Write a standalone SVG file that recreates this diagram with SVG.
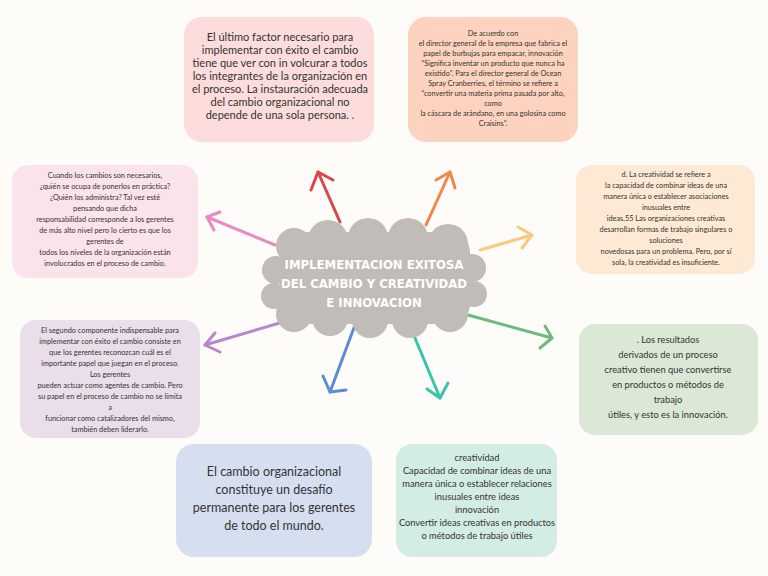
<svg xmlns="http://www.w3.org/2000/svg" width="768" height="576" viewBox="0 0 768 576">
<style>
.t{font-family:Lato,"Open Sans","Liberation Sans",sans-serif;fill:#333;text-anchor:middle}
.s{font-size:7.3px}.m{font-size:9.3px}.l{font-size:11px}.xl{font-size:12.5px}
.c{fill:none;stroke-width:3;stroke-linecap:round;stroke-linejoin:round}
</style>
<rect width="768" height="576" fill="#fdfcf8"/>
<g id="connectors">
<g class="c" stroke="#d9474a"><path d="M340 222L318 172"/><path d="M311 190L318 172L333 180"/></g>
<g class="c" stroke="#f5844c"><path d="M426 225L450 172"/><path d="M436 180L450 172L455 188"/></g>
<g class="c" stroke="#fbc97d"><path d="M480 250L532 235"/><path d="M518 227L532 235L522 248"/></g>
<g class="c" stroke="#6cbb7a"><path d="M468 315L552 338"/><path d="M545 326L552 338L540 348"/></g>
<g class="c" stroke="#3cc3ad"><path d="M415 338L440 398"/><path d="M427 389L440 398L448 383"/></g>
<g class="c" stroke="#5b8bd9"><path d="M355 325L330 392"/><path d="M323 376L330 392L346 390"/></g>
<g class="c" stroke="#b985cc"><path d="M283 322L205 345"/><path d="M215 333L205 345L220 352"/></g>
<g class="c" stroke="#e98bc0"><path d="M275 245L207 217"/><path d="M220 212L207 217L214 230"/></g>
</g>
<g id="center">
<g fill="#c1bcb8">
<rect x="280" y="232" width="190" height="92" rx="20"/>
<circle cx="294" cy="246" r="18"/><circle cx="328" cy="240" r="20"/><circle cx="368" cy="238" r="20"/><circle cx="408" cy="238" r="20"/><circle cx="448" cy="244" r="20"/>
<circle cx="294" cy="314" r="18"/><circle cx="330" cy="318" r="18"/><circle cx="370" cy="320" r="18"/><circle cx="410" cy="320" r="18"/><circle cx="450" cy="314" r="18"/>
<circle cx="276" cy="270" r="14"/><circle cx="274" cy="296" r="13"/><circle cx="472" cy="268" r="14"/><circle cx="474" cy="294" r="13"/>
</g>
<g font-family="'DejaVu Sans Condensed','Liberation Sans Narrow',sans-serif" font-weight="bold" font-size="13" fill="#fff" text-anchor="middle">
<text x="374" y="269">IMPLEMENTACION EXITOSA</text>
<text x="374" y="288">DEL CAMBIO Y CREATIVIDAD</text>
<text x="374" y="307">E INNOVACION</text>
</g>
</g>
<g id="n1"><rect x="184" y="17" width="190" height="125" rx="18" fill="#fddcdc"/>
<text class="t l"><tspan x="280" y="41">El último factor necesario para</tspan><tspan x="280" y="54">implementar con éxito el cambio</tspan><tspan x="280" y="67">tiene que ver con in volcurar a todos</tspan><tspan x="280" y="80">los integrantes de la organización en</tspan><tspan x="280" y="93">el proceso. La instauración adecuada</tspan><tspan x="280" y="106">del cambio organizacional no</tspan><tspan x="280" y="119">depende de una sola persona. .</tspan></text></g>
<g id="n2"><rect x="408" y="17" width="170" height="125" rx="18" fill="#fdd3bf"/>
<text class="t s"><tspan x="493" y="36">De acuerdo con</tspan><tspan x="493" y="46">el director general de la empresa que fabrica el</tspan><tspan x="493" y="56">papel de burbujas para empacar, innovación</tspan><tspan x="493" y="66">“Significa inventar un producto que nunca ha</tspan><tspan x="493" y="76">existido”. Para el director general de Ocean</tspan><tspan x="493" y="86">Spray Cranberries, el término se refiere a</tspan><tspan x="493" y="96">“convertir una materia prima pasada por alto,</tspan><tspan x="493" y="106">como</tspan><tspan x="493" y="116">la cáscara de arándano, en una golosina como</tspan><tspan x="493" y="126">Craisins”.</tspan></text></g>
<g id="n3"><rect x="12" y="165" width="186" height="113" rx="16" fill="#fbe3ec"/>
<text class="t s"><tspan x="105" y="178">Cuando los cambios son necesarios,</tspan><tspan x="105" y="189">¿quién se ocupa de ponerlos en práctica?</tspan><tspan x="105" y="200">¿Quién los administra? Tal vez esté</tspan><tspan x="105" y="211">pensando que dicha</tspan><tspan x="105" y="222">responsabilidad corresponde a los gerentes</tspan><tspan x="105" y="233">de más alto nivel pero lo cierto es que los</tspan><tspan x="105" y="244">gerentes de</tspan><tspan x="105" y="255">todos los niveles de la organización están</tspan><tspan x="105" y="266">involucrados en el proceso de cambio.</tspan></text></g>
<g id="n4"><rect x="20" y="320" width="180" height="118" rx="16" fill="#ebdeeb"/>
<text class="t s"><tspan x="110" y="333">El segundo componente indispensable para</tspan><tspan x="110" y="344">implementar con éxito el cambio consiste en</tspan><tspan x="110" y="355">que los gerentes reconozcan cuál es el</tspan><tspan x="110" y="366">importante papel que juegan en el proceso.</tspan><tspan x="110" y="377">Los gerentes</tspan><tspan x="110" y="388">pueden actuar como agentes de cambio. Pero</tspan><tspan x="110" y="399">su papel en el proceso de cambio no se limita</tspan><tspan x="110" y="410">a</tspan><tspan x="110" y="421">funcionar como catalizadores del mismo,</tspan><tspan x="110" y="432">también deben liderarlo.</tspan></text></g>
<g id="n5"><rect x="576" y="165" width="179" height="109" rx="16" fill="#fde9d4"/>
<text class="t s"><tspan x="666" y="177">d. La creatividad se refiere a</tspan><tspan x="666" y="188">la capacidad de combinar ideas de una</tspan><tspan x="666" y="199">manera única o establecer asociaciones</tspan><tspan x="666" y="210">inusuales entre</tspan><tspan x="666" y="221">ideas.55 Las organizaciones creativas</tspan><tspan x="666" y="232">desarrollan formas de trabajo singulares o</tspan><tspan x="666" y="243">soluciones</tspan><tspan x="666" y="254">novedosas para un problema. Pero, por sí</tspan><tspan x="666" y="265">sola, la creatividad es insuficiente.</tspan></text></g>
<g id="n6"><rect x="579" y="324" width="179" height="111" rx="16" fill="#dbe8d6"/>
<text class="t m"><tspan x="668" y="343">. Los resultados</tspan><tspan x="668" y="358">derivados de un proceso</tspan><tspan x="668" y="373">creativo tienen que convertirse</tspan><tspan x="668" y="388">en productos o métodos de</tspan><tspan x="668" y="403">trabajo</tspan><tspan x="668" y="418">útiles, y esto es la innovación.</tspan></text></g>
<g id="n7"><rect x="176" y="444" width="196" height="113" rx="18" fill="#d6dff0"/>
<text class="t xl"><tspan x="274" y="476">El cambio organizacional</tspan><tspan x="274" y="494">constituye un desafío</tspan><tspan x="274" y="512">permanente para los gerentes</tspan><tspan x="274" y="530">de todo el mundo.</tspan></text></g>
<g id="n8"><rect x="396" y="444" width="161" height="113" rx="16" fill="#d3ece4"/>
<text class="t m"><tspan x="477" y="461">creatividad</tspan><tspan x="477" y="474">Capacidad de combinar ideas de una</tspan><tspan x="477" y="487">manera única o establecer relaciones</tspan><tspan x="477" y="500">inusuales entre ideas</tspan><tspan x="477" y="513">innovación</tspan><tspan x="477" y="526">Convertir ideas creativas en productos</tspan><tspan x="477" y="539">o métodos de trabajo útiles</tspan></text></g>
</svg>
